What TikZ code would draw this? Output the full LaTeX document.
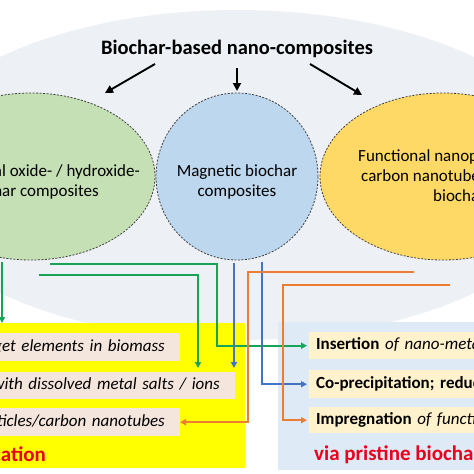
\documentclass[tikz,border=0pt]{standalone}
\usepackage{fontspec}
\setmainfont{Carlito}
\usetikzlibrary{arrows.meta,shapes.geometric}
\definecolor{bgell}{HTML}{EDF0F5}
\definecolor{gell}{HTML}{C5E0B4}
\definecolor{bell}{HTML}{BDD7EE}
\definecolor{yell}{HTML}{FFD966}
\definecolor{ybox}{HTML}{FFFF00}
\definecolor{bbox}{HTML}{DEEBF7}
\definecolor{pinkrow}{HTML}{F4E6DD}
\definecolor{creamrow}{HTML}{FFF2CC}
\definecolor{cgreen}{HTML}{17A456}
\definecolor{cblue}{HTML}{4472C4}
\definecolor{corange}{HTML}{ED7D31}
\definecolor{cred}{HTML}{E8001C}
\definecolor{dashgray}{HTML}{404040}
\tikzset{
  bubble/.style={ellipse, draw=dashgray, line width=0.8pt, dash pattern=on 2pt off 1.5pt, inner sep=0pt, minimum height=167pt},
  bubtext/.style={font=\fontsize{17}{20}\selectfont, inner sep=0pt},
  leftrow/.style={fill=pinkrow, anchor=north east, text width=400pt, align=right, inner xsep=15pt, inner ysep=0pt, text height=12pt, text depth=4pt, font=\fontsize{17}{20}\selectfont\itshape},
  rightrow/.style={fill=creamrow, anchor=north west, text width=400pt, align=left, inner xsep=7pt, inner ysep=0pt, text height=12pt, text depth=4pt, font=\fontsize{17}{20}\selectfont},
  redtext/.style={text=cred, font=\fontsize{21}{24}\selectfont\bfseries, inner sep=0pt},
  blackarrow/.style={draw=black, line width=1.9pt, -{Triangle[length=8pt,width=8pt]}},
  conn/.style={line width=2pt, -{Triangle[length=6pt,width=6pt]}},
  gconn/.style={conn, draw=cgreen},
  bconn/.style={conn, draw=cblue},
  oconn/.style={conn, draw=corange},
}
\begin{document}
\begin{tikzpicture}[x=1pt,y=-1pt]
\useasboundingbox (0,0) rectangle (474,474);
\fill[white] (0,0) rectangle (474,474);
\begin{scope}
\clip (0,0) rectangle (474,474);
% background ellipse
\node[ellipse, fill=bgell, minimum width=678pt, minimum height=330pt, inner sep=0pt] (bg) at (237,175) {};
% title
\node[anchor=base, inner sep=0pt, font=\fontsize{20.5}{24}\selectfont\bfseries] (title) at (237,54) {Biochar-based nano-composites};
% bubbles
\node[bubble, fill=gell, minimum width=248pt] (oxide) at (31,176.5) {};
\node[bubble, fill=bell, minimum width=162pt] (mag) at (237,176.5) {};
\node[bubble, fill=yell, minimum width=246pt] (func) at (443,176.5) {};
% bubble texts
\node[bubtext, anchor=base east] (ox1) at (140,176) {Nano-metal oxide- / hydroxide-};
\node[bubtext, anchor=base east] (ox2) at (99,196) {biochar composites};
\node[bubtext, anchor=base] (mag1) at (237,176) {Magnetic biochar};
\node[bubtext, anchor=base] (mag2) at (237,196) {composites};
\node[bubtext, anchor=base west] (fu1) at (358,161) {Functional nanoparticles /};
\node[bubtext, anchor=base west] (fu2) at (361,181) {carbon nanotubes-coated};
\node[bubtext, anchor=base west] (fu3) at (433,201) {biochar};
% black arrows
\coordinate (al) at (155,64); \coordinate (alt) at (105,93);
\coordinate (ac) at (237,68); \coordinate (act) at (237,91);
\coordinate (ar) at (310,64); \coordinate (art) at (362,95);
\draw[blackarrow] (al) -- (alt);
\draw[blackarrow] (ac) -- (act);
\draw[blackarrow] (ar) -- (art);
% lower panels
\node[fill=ybox, anchor=north east, minimum width=265pt, minimum height=145pt, inner sep=0pt] (ybx) at (245,323) {};
\node[fill=bbox, anchor=north west, minimum width=210pt, minimum height=148pt, inner sep=0pt] (bbx) at (278,322) {};
% left rows
\node[leftrow, minimum height=28pt] (L1) at (180,333) {Enrichment of target elements in biomass};
\node[leftrow, minimum height=27pt] (L2) at (235,372) {Pre-treatment with dissolved metal salts / ions};
\node[leftrow, minimum height=28pt] (L3) at (180,408) {Pre-treatment with nanoparticles/carbon nanotubes};
\node[redtext, anchor=base east] (redL) at (46,461) {via biomass modification};
% right rows
\node[rightrow, minimum height=27pt] (R1) at (309,332) {\textbf{Insertion} \textit{of nano-metal oxides / hydroxides}};
\node[rightrow, minimum height=28pt] (R2) at (309,370) {\textbf{Co-precipitation; reduction}};
\node[rightrow, minimum height=26pt] (R3) at (309,407) {\textbf{Impregnation} \textit{of functional nanoparticles}};
\node[redtext, anchor=base west] (redR) at (314,460) {via pristine biochar};
% connectors
\coordinate (g1a) at (2,262);
\coordinate (g2a) at (50,264); \coordinate (g2b) at (217,264);
\coordinate (g3a) at (39,275); \coordinate (g3b) at (198,275);
\coordinate (b1a) at (234,263);
\coordinate (b2a) at (262,262);
\coordinate (o1a) at (414,272); \coordinate (o1b) at (248,272);
\coordinate (o2a) at (450,285); \coordinate (o2b) at (283,285);
\draw[gconn] (g1a) -- (g1a |- ybx.north);
\draw[gconn, shorten >=2pt] (g2a) -- (g2b) |- (R1.west);
\draw[gconn, shorten >=4pt] (g3a) -- (g3b) -- (g3b |- L2.north);
\draw[bconn, shorten >=4pt] (b1a) -- (b1a |- L2.north);
\draw[bconn, shorten >=2pt] (b2a) |- (R2.west);
\draw[oconn] (o1a) -- (o1b) |- (L3.east);
\draw[oconn, shorten >=2pt] (o2a) -- (o2b) |- (R3.west);
\end{scope}
\end{tikzpicture}
\end{document}
